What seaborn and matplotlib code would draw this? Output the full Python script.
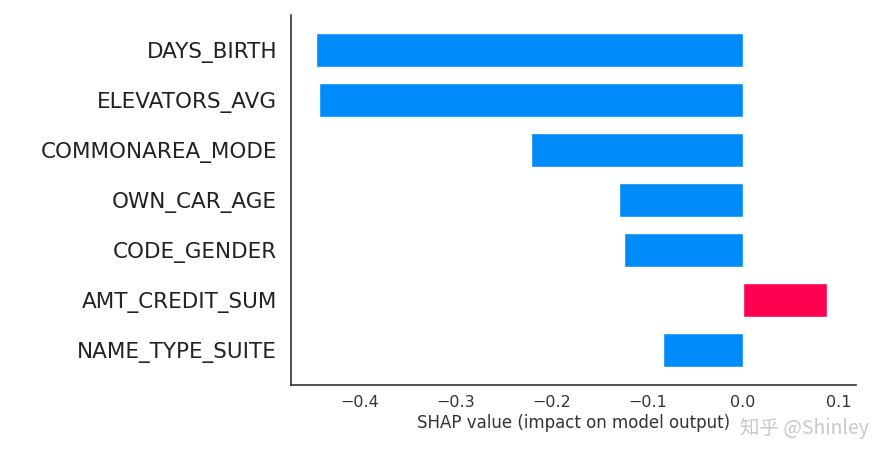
import pandas as pd
import matplotlib.pyplot as plt
import seaborn as sns

# SHAP values per feature
features = ['DAYS_BIRTH', 'ELEVATORS_AVG', 'COMMONAREA_MODE', 'OWN_CAR_AGE',
            'CODE_GENDER', 'AMT_CREDIT_SUM', 'NAME_TYPE_SUITE']
shap_values = [-0.446, -0.443, -0.2215, -0.1296, -0.124, 0.0878, -0.0836]

df = pd.DataFrame({'feature': features, 'value': shap_values})
df['sign'] = ['pos' if v > 0 else 'neg' for v in df['value']]

sns.set_style("white")
plt.rcParams['font.family'] = ['DejaVu Sans']

fig = plt.figure(figsize=(8.82, 4.54), dpi=100)
ax = fig.add_axes([0.33, 0.152, 0.6405, 0.815])

sns.barplot(data=df, x='value', y='feature', hue='sign', orient='h',
            palette={'neg': '#008bfb', 'pos': '#ff0051'}, dodge=False,
            legend=False, width=0.68, saturation=1, ax=ax)

ax.set_xlim(-0.472, 0.118)
ax.set_ylim(6.7, -0.7)
ax.set_xticks([-0.4, -0.3, -0.2, -0.1, 0.0, 0.1])
ax.set_xticklabels(['\u22120.4', '\u22120.3', '\u22120.2', '\u22120.1', '0.0', '0.1'])
ax.set_xlabel('SHAP value (impact on model output)', fontsize=12, color='#333333', labelpad=3)
ax.set_ylabel('')
ax.tick_params(axis='y', length=0, labelsize=15.5, pad=10, labelcolor='#222222')
ax.tick_params(axis='x', length=5, labelsize=11.5, pad=2, labelcolor='#333333', color='#333333')
for s in ['top', 'right']:
    ax.spines[s].set_visible(False)
for s in ['left', 'bottom']:
    ax.spines[s].set_color('#333333')
    ax.spines[s].set_linewidth(1.2)

# watermark
fig.text(0.985, 0.045, '知乎 @Shinley', fontsize=14, color='#bbbbbb', alpha=0.8,
         ha='right', family=['Noto Sans CJK SC', 'DejaVu Sans'])

fig.savefig('out.png', dpi=100)
